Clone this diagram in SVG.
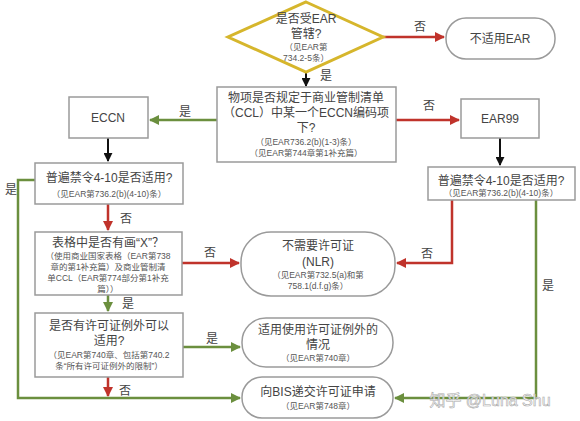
<svg xmlns="http://www.w3.org/2000/svg" width="580" height="421" viewBox="0 0 580 421">
<defs>
<style>
text{font-family:"Liberation Sans","Noto Sans CJK SC",sans-serif;fill:#444;text-anchor:middle}
.m{font-size:12px}
.s{font-size:8.5px;fill:#555}
.l{font-size:12px;fill:#444}
.box{fill:#fff;stroke:#9a9a9a;stroke-width:1.5}
.red{fill:none;stroke:#c0332b;stroke-width:2.5}
.grn{fill:none;stroke:#6b8f3e;stroke-width:2.5}
.blk{fill:none;stroke:#111;stroke-width:2}
</style>
<marker id="ar" viewBox="0 0 10 10" refX="9" refY="5" markerWidth="4" markerHeight="4" orient="auto"><path d="M0,0L10,5L0,10z" fill="#c0332b"/></marker>
<marker id="ag" viewBox="0 0 10 10" refX="9" refY="5" markerWidth="4" markerHeight="4" orient="auto"><path d="M0,0L10,5L0,10z" fill="#6b8f3e"/></marker>
<marker id="ab" viewBox="0 0 10 10" refX="9" refY="5" markerWidth="4.5" markerHeight="4.5" orient="auto"><path d="M0,0L10,5L0,10z" fill="#111"/></marker>
</defs>
<rect width="580" height="421" fill="#fff"/>
<g id="connectors">
<path class="red" d="M383,37H444" marker-end="url(#ar)"/>
<path class="blk" d="M306,72V86" marker-end="url(#ab)"/>
<path class="red" d="M396,120H459" marker-end="url(#ar)"/>
<path class="grn" d="M217,120H150" marker-end="url(#ag)"/>
<path class="blk" d="M108,138V161" marker-end="url(#ab)"/>
<path class="blk" d="M500,138V165" marker-end="url(#ab)"/>
<path class="red" d="M108,204V230" marker-end="url(#ar)"/>
<path class="red" d="M182,263H239" marker-end="url(#ar)"/>
<path class="red" d="M452,200V263H397" marker-end="url(#ar)"/>
<path class="grn" d="M108,295V311" marker-end="url(#ag)"/>
<path class="grn" d="M183,347H240" marker-end="url(#ag)"/>
<path class="red" d="M108,377V396" marker-end="url(#ar)"/>
<path class="grn" d="M35,180H18V398H240" marker-end="url(#ag)"/>
<path class="grn" d="M536,200V398H395" marker-end="url(#ag)"/>
<text class="l" x="420" y="31">否</text>
<text class="l" x="326" y="80">是</text>
<text class="l" x="429" y="110">否</text>
<text class="l" x="185" y="116">是</text>
<text class="l" x="126" y="223">否</text>
<text class="l" x="210" y="257">否</text>
<text class="l" x="427" y="258">否</text>
<text class="l" x="548" y="290">是</text>
<text class="l" x="128" y="308">是</text>
<text class="l" x="212" y="343">是</text>
<text class="l" x="125" y="395">否</text>
<text class="l" x="11" y="194">是</text>
</g>
<g id="n1">
<polygon points="306,2 383,37 306,72 228,37" fill="#fff" stroke="#d6b62c" stroke-width="3"/>
<text class="m" x="306" y="23">是否受EAR</text>
<text class="m" x="306" y="38">管辖?</text>
<text class="s" x="306" y="50">（见EAR第</text>
<text class="s" x="306" y="61">734.2-5条）</text>
</g>
<g id="n2">
<rect class="box" x="446" y="18" width="109" height="41" rx="20"/>
<text class="m" x="500" y="43">不适用EAR</text>
</g>
<g id="n3">
<rect class="box" x="217" y="87" width="179" height="75"/>
<text class="m" x="306" y="102">物项是否规定于商业管制清单</text>
<text class="m" x="306" y="117">（CCL）中某一个ECCN编码项</text>
<text class="m" x="306" y="132">下?</text>
<text class="s" x="306" y="145">（见EAR736.2(b)(1-3)条）</text>
<text class="s" x="306" y="156">（见EAR第744章第1补充篇）</text>
</g>
<g id="n4">
<rect class="box" x="69" y="97" width="79" height="41"/>
<text class="m" x="108" y="122">ECCN</text>
</g>
<g id="n5">
<rect class="box" x="461" y="99" width="78" height="39"/>
<text class="m" x="500" y="123">EAR99</text>
</g>
<g id="n6">
<rect class="box" x="35" y="163" width="148" height="41"/>
<text class="m" x="109" y="182">普遍禁令4-10是否适用?</text>
<text class="s" x="109" y="197">（见EAR第736.2(b)(4-10)条）</text>
</g>
<g id="n7">
<rect class="box" x="428" y="167" width="147" height="33"/>
<text class="m" x="501" y="185">普遍禁令4-10是否适用?</text>
<text class="s" x="501" y="196">（见EAR第736.2(b)(4-10)条）</text>
</g>
<g id="n8">
<rect class="box" x="35" y="232" width="147" height="63"/>
<text class="m" x="108" y="247">表格中是否有画“X”？</text>
<text class="s" x="108" y="259">（使用商业国家表格（EAR第738</text>
<text class="s" x="108" y="270">章的第1补充篇）及商业管制清</text>
<text class="s" x="108" y="281">单CCL（EAR第774部分第1补充</text>
<text class="s" x="108" y="292">篇））</text>
</g>
<g id="n9">
<rect class="box" x="241" y="232" width="154" height="64" rx="30"/>
<text class="m" x="318" y="250">不需要许可证</text>
<text class="m" x="318" y="266">(NLR)</text>
<text class="s" x="318" y="278">（见EAR第732.5(a)和第</text>
<text class="s" x="318" y="289">758.1(d.f.g)条）</text>
</g>
<g id="n10">
<rect class="box" x="35" y="313" width="148" height="64"/>
<text class="m" x="109" y="330">是否有许可证例外可以</text>
<text class="m" x="109" y="345">适用?</text>
<text class="s" x="109" y="358">（见EAR第740章、包括第740.2</text>
<text class="s" x="109" y="369">条“所有许可证例外的限制”）</text>
</g>
<g id="n11">
<rect class="box" x="242" y="318" width="151" height="49" rx="24"/>
<text class="m" x="318" y="334">适用使用许可证例外的</text>
<text class="m" x="318" y="349">情况</text>
<text class="s" x="318" y="361">（见EAR第740章）</text>
</g>
<g id="n12">
<rect class="box" x="242" y="377" width="151" height="41" rx="20"/>
<text class="m" x="318" y="396">向BIS递交许可证申请</text>
<text class="s" x="318" y="409">（见EAR第748章）</text>
</g>
<text x="490" y="406" style="font-size:16px;fill:#fff;stroke:#aaa;stroke-width:0.6">知乎 @Luna Shu</text>
</svg>
